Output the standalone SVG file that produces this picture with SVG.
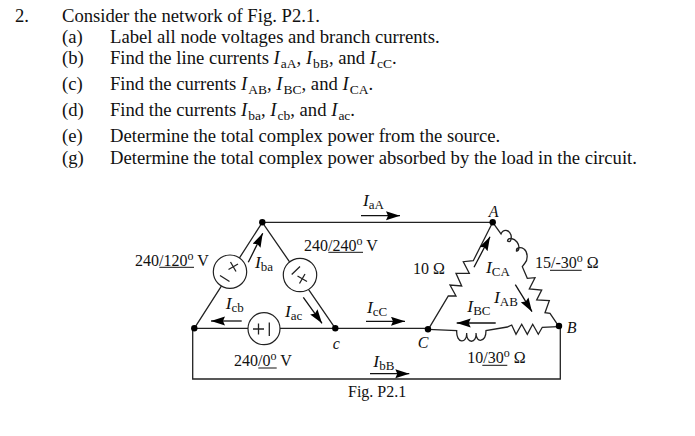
<svg xmlns="http://www.w3.org/2000/svg" width="695" height="436" viewBox="0 0 695 436">
<style>
text{font-family:"Liberation Serif","Times New Roman",serif;fill:#111}
.t{font-size:18.65px}
.d{font-size:16px}
.i{font-style:italic}
.j{font-style:italic;font-size:17.5px}
.s{font-size:13px}
.o{font-size:12px}
.st{font-size:13.5px}
.w{fill:none;stroke:#222;stroke-width:1.3}
.u{stroke:#111;stroke-width:1;fill:none}
.a{fill:none;stroke:#111;stroke-width:1.3;marker-end:url(#ah)}
.n{fill:#000}
.src{fill:#fff;stroke:#222;stroke-width:1.2}
</style>
<defs>
<marker id="ah" markerUnits="userSpaceOnUse" markerWidth="15" markerHeight="10" refX="14" refY="4.500" orient="auto"><path d="M0 0L14 4.500L0 9L2 4.500Z" fill="#000"/></marker>
</defs>
<g id="problem-text">
<text class="t" x="15" y="22">2.</text>
<text class="t" x="62" y="22">Consider the network of Fig. P2.1.</text>
<text class="t" x="62" y="43">(a)</text>
<text class="t" x="110" y="43">Label all node voltages and branch currents.</text>
<text class="t" x="62" y="64">(b)</text>
<text class="t" x="110" y="64">Find the line currents <tspan class="i">I</tspan><tspan class="st" dx="1" dy="4">aA</tspan><tspan dy="-4">, </tspan><tspan class="i">I</tspan><tspan class="st" dx="1" dy="4">bB</tspan><tspan dy="-4">, and </tspan><tspan class="i">I</tspan><tspan class="st" dx="1" dy="4">cC</tspan><tspan dy="-4">.</tspan></text>
<text class="t" x="62" y="90">(c)</text>
<text class="t" x="110" y="90">Find the currents <tspan class="i">I</tspan><tspan class="st" dx="1" dy="4">AB</tspan><tspan dy="-4">, </tspan><tspan class="i">I</tspan><tspan class="st" dx="1" dy="4">BC</tspan><tspan dy="-4">, and </tspan><tspan class="i">I</tspan><tspan class="st" dx="1" dy="4">CA</tspan><tspan dy="-4">.</tspan></text>
<text class="t" x="62" y="116">(d)</text>
<text class="t" x="110" y="116">Find the currents <tspan class="i">I</tspan><tspan class="st" dx="1" dy="4">ba</tspan><tspan dy="-4">, </tspan><tspan class="i">I</tspan><tspan class="st" dx="1" dy="4">cb</tspan><tspan dy="-4">, and </tspan><tspan class="i">I</tspan><tspan class="st" dx="1" dy="4">ac</tspan><tspan dy="-4">.</tspan></text>
<text class="t" x="62" y="142">(e)</text>
<text class="t" x="110" y="142">Determine the total complex power from the source.</text>
<text class="t" x="62" y="164">(g)</text>
<text class="t" x="110" y="164">Determine the total complex power absorbed by the load in the circuit.</text>
</g>
<g id="connectors">
<path class="w" d="M262.300 222.300H492.700M335.300 328.300H428.300M192.700 328.300V379H560.300V326M194.300 328.300L262.300 222.300L335.300 328.300M194.300 328.300H335.300"/>
<path class="w" d="M492.700 222.300L473.300 260.700L463.300 261.700L469.300 273.300L456 273.300L461.700 286L450 285L456 296L448.300 296L428.300 329.300"/>
<path class="w" d="M492.700 222.300L501 234C503 229 509 229 511 235C512 240 510 243 507.500 241C508 237 514 238 517 242C520 246 519.500 251 516.500 251C516 247 521 247 524 249C528 252 528 260 525 263L522.300 266.700L527.300 278.300L535 277.700L529.300 289L541.700 290L536.700 300L549.300 300.700L545 312.700L550 313.300L558.300 325.700"/>
<path class="w" d="M428.300 329.300L456.700 330.500C456 344 467 344 466.700 333C466 344 477 344 476 333C476 344 486 342 486 330.500L507.300 327L511.700 325L516 334.300L521.700 324.300L527.300 334.300L532.700 324.300L538.300 334.300L542.300 327.300L558.300 326.700"/>
<path class="a" d="M361 215.700H400"/>
<path class="a" d="M366 321.300H405"/>
<path class="a" d="M370 373.700H409.300"/>
<path class="a" d="M248.300 262.300L262.700 233.300"/>
<path class="a" d="M303.300 297.300L322 323.300"/>
<path class="a" d="M241.700 321H211"/>
<path class="a" d="M474 267.300L490 236.700"/>
<path class="a" d="M515.300 284.700L532 311.700"/>
<path class="a" d="M495.700 323H456.700"/>
</g>
<g id="node-a"><circle class="n" cx="262.300" cy="222.300" r="3.200"/></g>
<g id="node-b"><circle class="n" cx="194.300" cy="328.300" r="3.200"/></g>
<g id="node-c"><circle class="n" cx="335.300" cy="328.300" r="3.200"/><text class="d i" x="332.700" y="349">c</text></g>
<g id="node-A"><circle class="n" cx="492.700" cy="222.300" r="3.200"/><text class="d i" x="488.700" y="216.700">A</text></g>
<g id="node-B"><circle class="n" cx="559" cy="326" r="3.200"/><text class="d i" x="566.700" y="333.300">B</text></g>
<g id="node-C"><circle class="n" cx="428" cy="329.300" r="3.200"/><text class="d i" x="417.700" y="347.700">C</text></g>
<g id="source-ba">
<circle class="src" cx="230" cy="271.700" r="16.700"/>
<path class="w" d="M220 275.500L229.500 281.500M228.500 269.500L238 264M230.500 262L236 271.500"/>
<text class="d" x="135" y="266">240/120<tspan class="o" dy="-6">o</tspan><tspan dy="6"> V</tspan></text>
<path class="u" d="M159.300 267.300H194"/>
</g>
<g id="source-ac">
<circle class="src" cx="300" cy="275" r="16.700"/>
<path class="w" d="M291.700 274.500L300 266.500M297.500 276L307 281.500M305 274L299.500 283.500"/>
<text class="d" x="304" y="251">240/240<tspan class="o" dy="-6">o</tspan><tspan dy="6"> V</tspan></text>
<path class="u" d="M328.300 252.300H363"/>
</g>
<g id="source-cb">
<circle class="src" cx="264" cy="328.700" r="16"/>
<path class="w" d="M253 329H264M258.500 323.500V334.500M269.300 322.500V336"/>
<text class="d" x="234" y="365.700">240/0<tspan class="o" dy="-6">o</tspan><tspan dy="6"> V</tspan></text>
<path class="u" d="M258.300 368H276.700"/>
</g>
<g id="load-labels">
<text class="d" x="413" y="274.300">10 Ω</text>
<text class="d" x="535" y="268.300">15/-30<tspan class="o" dy="-6">o</tspan><tspan dy="6"> Ω</tspan></text>
<path class="u" d="M550 270.300H581.700"/>
<text class="d" x="467.300" y="363.300">10/30<tspan class="o" dy="-6">o</tspan><tspan dy="6"> Ω</tspan></text>
<path class="u" d="M482.300 365.300H507.300"/>
</g>
<g id="current-labels">
<text class="d" x="363" y="206"><tspan class="j">I</tspan><tspan class="s" dy="3">aA</tspan></text>
<text class="d" x="367" y="312.700"><tspan class="j">I</tspan><tspan class="s" dy="3">cC</tspan></text>
<text class="d" x="373.300" y="366.700"><tspan class="j">I</tspan><tspan class="s" dy="3">bB</tspan></text>
<text class="d" x="255" y="268"><tspan class="j">I</tspan><tspan class="s" dy="3">ba</tspan></text>
<text class="d" x="225.700" y="309.300"><tspan class="j">I</tspan><tspan class="s" dy="3">cb</tspan></text>
<text class="d" x="285" y="317.300"><tspan class="j">I</tspan><tspan class="s" dy="3">ac</tspan></text>
<text class="d" x="486" y="273"><tspan class="j">I</tspan><tspan class="s" dy="3">CA</tspan></text>
<text class="d" x="494" y="302.700"><tspan class="j">I</tspan><tspan class="s" dy="3">AB</tspan></text>
<text class="d" x="467.300" y="312.300"><tspan class="j">I</tspan><tspan class="s" dy="3">BC</tspan></text>
</g>
<text id="caption" class="d" x="348" y="397">Fig. P2.1</text>
</svg>
